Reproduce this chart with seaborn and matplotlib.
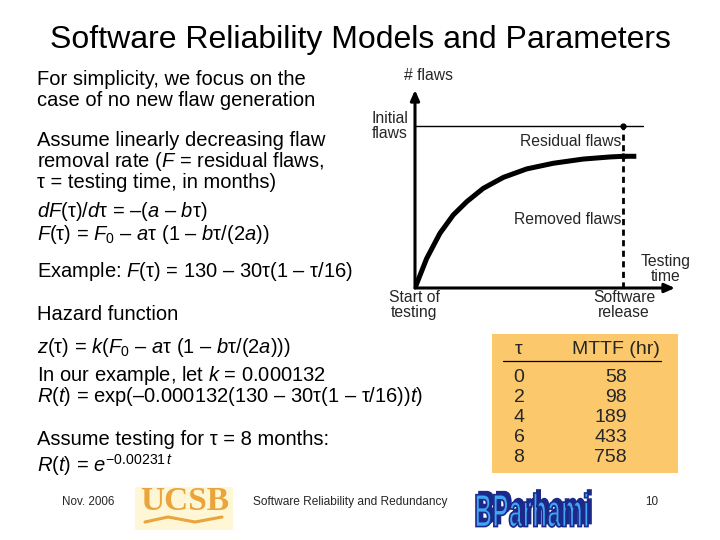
import numpy as np
import pandas as pd
import seaborn as sns
import matplotlib.pyplot as plt
from matplotlib import patheffects as pe
from matplotlib.patches import Rectangle, PathPatch
from matplotlib.textpath import TextPath
from matplotlib.font_manager import FontProperties
from matplotlib.transforms import Affine2D

sns.set_theme(style="white")
plt.rcParams['font.family'] = ['Liberation Sans', 'DejaVu Sans']
plt.rcParams['mathtext.fontset'] = 'custom'
plt.rcParams['mathtext.rm'] = 'Liberation Sans'
plt.rcParams['mathtext.it'] = 'Liberation Sans:italic'
plt.rcParams['mathtext.bf'] = 'Liberation Sans:bold'

# ---------------- data ----------------
curve_time = [0, 0.056, 0.120, 0.184, 0.249, 0.328, 0.425, 0.537, 0.665, 0.809, 0.938, 1.0, 1.064]
curve_removed = [0, 0.182, 0.338, 0.451, 0.533, 0.615, 0.683, 0.735, 0.770, 0.796, 0.809, 0.813, 0.813]
initial_flaws = 1.0
initial_line_end = 1.096
release_time = 1.0
tau_values = ["0", "2", "4", "6", "8"]
mttf_hours = ["58", "98", "189", "433", "758"]

fig = plt.figure(figsize=(7.2, 5.4), dpi=100)
bg = fig.add_axes([0, 0, 1, 1])
bg.set_xlim(0, 720)
bg.set_ylim(540, 0)
bg.axis('off')

# ---------------- title ----------------
bg.text(360, 40, "Software Reliability Models and Parameters", ha='center', va='center',
        fontsize=23, color='black')

# ---------------- left text ----------------
fs = 14.5
lines = [
    (85, "For simplicity, we focus on the"),
    (106, "case of no new flaw generation"),
    (146, "Assume linearly decreasing flaw"),
    (167, "removal rate ($F$ = residual flaws,"),
    (188, "τ = testing time, in months)"),
    (217, "$dF$(τ)/$d$τ = –($a$ – $b$τ)"),
    (240, "$F$(τ) = $F_{\\mathrm{0}}$ – $a$τ (1 – $b$τ/(2$a$))"),
    (277, "Example: $F$(τ) = 130 – 30τ(1 – τ/16)"),
    (320, "Hazard function"),
    (353, "$z$(τ) = $k$($F_{\\mathrm{0}}$ – $a$τ (1 – $b$τ/(2$a$)))"),
    (381, "In our example, let $k$ = 0.000132"),
    (402, "$R$($t$) = exp(–0.000132(130 – 30τ(1 – τ/16))$t$)"),
    (445, "Assume testing for τ = 8 months:"),
    (472, "$R$($t$) = $e^{\\mathrm{-0.00231}\\,t}$"),
]
for y, s in lines:
    bg.text(37, y, s, ha='left', va='baseline', fontsize=fs, color='black')

# ---------------- diagram ----------------
x0, x1 = 415, 675
y0, y1 = 288, 90
sx, sy = 208.0, 162.0
ax = fig.add_axes([x0 / 720, (540 - y0) / 540, (x1 - x0) / 720, (y0 - y1) / 540])
ax.set_xlim(0, (x1 - x0) / sx)
ax.set_ylim(0, (y0 - y1) / sy)
ax.axis('off')

xmax = (x1 - x0) / sx
ymax = (y0 - y1) / sy
arrow = dict(arrowstyle='-|>,head_length=0.5,head_width=0.22', color='black', lw=2.2,
             shrinkA=0, shrinkB=0)
ax.annotate('', xy=(xmax, 0), xytext=(0, 0), arrowprops=arrow, annotation_clip=False)
ax.annotate('', xy=(0, ymax), xytext=(0, 0), arrowprops=arrow, annotation_clip=False)

ax.plot([0, initial_line_end], [initial_flaws, initial_flaws], color='black', lw=1.0)
ax.plot([release_time, release_time], [0, initial_flaws], color='black', lw=2.0,
        ls=(0, (2.2, 1.6)))
df = pd.DataFrame({"time": curve_time, "removed": curve_removed})
sns.lineplot(data=df, x="time", y="removed", ax=ax, color='black', lw=3.6,
             solid_capstyle='butt', estimator=None, sort=False)
ax.plot([release_time, release_time], [initial_flaws, curve_removed[-2]], 'o',
        color='black', ms=3.5)
ax.set_xlabel('')
ax.set_ylabel('')

dfs = 11.3
bg.text(428, 76, "# flaws", ha='center', va='center', fontsize=dfs)
bg.text(390, 126, "Initial\nflaws", ha='center', va='center', fontsize=dfs, linespacing=0.95)
bg.text(621, 142, "Residual flaws", ha='right', va='center', fontsize=dfs)
bg.text(621, 220, "Removed flaws", ha='right', va='center', fontsize=dfs)
bg.text(666, 269, "Testing\ntime", ha='center', va='center', fontsize=dfs, linespacing=0.95)
bg.text(414, 305, "Start of\ntesting", ha='center', va='center', fontsize=dfs, linespacing=0.95)
bg.text(624, 305, "Software\nrelease", ha='center', va='center', fontsize=dfs, linespacing=0.95)

# ---------------- table ----------------
tfs = 14
bg.add_patch(Rectangle((492, 334), 186, 139, facecolor='#FCC86C', edgecolor='none'))
bg.text(519, 350, "τ", ha='center', va='center', fontsize=tfs)
bg.text(616, 350, "MTTF (hr)", ha='center', va='center', fontsize=tfs)
bg.plot([503, 661], [361, 361], color='black', lw=0.9)
for i, (t, m) in enumerate(zip(tau_values, mttf_hours)):
    y = 378 + 20 * i
    bg.text(519, y, t, ha='center', va='center', fontsize=tfs)
    bg.text(627, y, m, ha='right', va='center', fontsize=tfs)

# ---------------- footer ----------------
bg.text(62, 502, "Nov. 2006", ha='left', va='center', fontsize=8.4)
bg.add_patch(Rectangle((135, 487), 98, 43, facecolor='#FFF6D6', edgecolor='none'))
bg.text(185, 501, "UCSB", ha='center', va='center', fontsize=24, fontweight='bold',
        family=['Liberation Serif', 'DejaVu Serif'], color='#E9A53C')
bg.plot([145, 168, 195, 222], [522, 517, 522, 517], color='#E9A53C', lw=2.2)
bg.text(253, 502, "Software Reliability and Redundancy", ha='left', va='center', fontsize=8.6)
bg.text(652, 502, "10", ha='center', va='center', fontsize=8.4)


def word_art(text, x_left, y_top, w, h, face, edge, dx=0, dy=0):
    tp = TextPath((0, 0), text, size=20,
                  prop=FontProperties(family='Liberation Sans', weight='bold'))
    ext = tp.get_extents()
    tr = (Affine2D().translate(-ext.x0, -ext.y1)
          .scale(w / ext.width, -h / ext.height)
          .translate(x_left + dx, y_top + dy))
    path = tr.transform_path(tp)
    bg.add_patch(PathPatch(path, facecolor=face, edgecolor=edge, lw=1.2))


word_art("BParhami", 476, 493, 112, 34, '#1B2A8A', '#1B2A8A', dx=3, dy=-3)
word_art("BParhami", 476, 493, 112, 34, '#3FA6F2', '#1B2A8A')

fig.savefig("out.png", dpi=100)
